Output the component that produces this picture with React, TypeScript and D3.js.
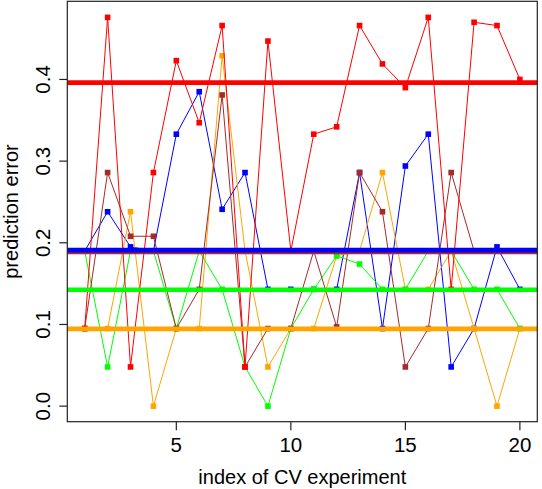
import * as d3 from 'd3';
import React, { useEffect, useRef } from 'react';

// CV experiment index and prediction errors per method
const runs = d3.range(1, 21);
const errRed = [0.095, 0.476, 0.048, 0.286, 0.423, 0.347, 0.466, 0.048, 0.447, 0.19, 0.333, 0.342, 0.466, 0.419, 0.39, 0.476, 0.143, 0.47, 0.466, 0.4];
const errBlue = [0.19, 0.238, 0.195, 0.19, 0.333, 0.385, 0.241, 0.286, 0.143, 0.143, 0.143, 0.143, 0.286, 0.095, 0.294, 0.333, 0.048, 0.095, 0.195, 0.143];
const errGreen = [0.19, 0.048, 0.19, 0.19, 0.095, 0.19, 0.143, 0.048, 0.0, 0.095, 0.143, 0.184, 0.174, 0.143, 0.143, 0.19, 0.19, 0.143, 0.143, 0.095];
const errOrange = [0.095, 0.095, 0.238, 0.0, 0.095, 0.095, 0.429, 0.19, 0.048, 0.095, 0.095, 0.184, 0.19, 0.286, 0.143, 0.143, 0.19, 0.095, 0.0, 0.095];
const errBrown = [0.095, 0.286, 0.208, 0.208, 0.095, 0.143, 0.381, 0.048, 0.095, 0.095, 0.19, 0.097, 0.286, 0.238, 0.048, 0.095, 0.286, 0.19, 0.19, 0.19];

// overall error estimates (thick horizontal lines)
const levelBrown = 0.189;
const levelBlue = 0.191;
const levelRed = 0.396;
const levelGreen = 0.1425;
const levelOrange = 0.0945;

const xTicks = [5, 10, 15, 20];
const yTicks = [0, 0.1, 0.2, 0.3, 0.4];

const W = 542;
const H = 489;
const plot = { left: 67.3, right: 537.3, top: 1.3, bottom: 421.7 };

export default function App() {
  const ref = useRef<SVGSVGElement>(null);

  useEffect(() => {
    const svg = d3.select(ref.current);
    svg.selectAll('*').remove();

    const x = d3.scaleLinear().domain([0.24, 20.76]).range([plot.left, plot.right]);
    const y = d3.scaleLinear().domain([-0.01906, 0.4957]).range([plot.bottom, plot.top]);

    const font = '"Liberation Sans", Arial, sans-serif';

    // series, in drawing order
    const series = [
      { color: '#0000FF', values: errBlue },
      { color: '#FFA500', values: errOrange },
      { color: '#00FF00', values: errGreen },
      { color: '#A52A2A', values: errBrown },
      { color: '#FF0000', values: errRed },
    ];

    const line = d3
      .line<number>()
      .x((d, i) => x(runs[i]))
      .y((d) => y(d));

    const sq = 5.6;
    series.forEach((s) => {
      svg
        .append('path')
        .datum(s.values)
        .attr('fill', 'none')
        .attr('stroke', s.color)
        .attr('stroke-width', 1)
        .attr('d', line);
      svg
        .append('g')
        .selectAll('rect')
        .data(s.values)
        .enter()
        .append('rect')
        .attr('x', (d, i) => x(runs[i]) - sq / 2)
        .attr('y', (d) => y(d) - sq / 2)
        .attr('width', sq)
        .attr('height', sq)
        .attr('fill', s.color);
    });

    // thick reference lines
    const levels = [
      { color: '#A52A2A', v: levelBrown },
      { color: '#0000FF', v: levelBlue },
      { color: '#FF0000', v: levelRed },
      { color: '#00FF00', v: levelGreen },
      { color: '#FFA500', v: levelOrange },
    ];
    levels.forEach((l) => {
      svg
        .append('line')
        .attr('x1', plot.left)
        .attr('x2', plot.right)
        .attr('y1', y(l.v))
        .attr('y2', y(l.v))
        .attr('stroke', l.color)
        .attr('stroke-width', 4.7);
    });

    // box
    svg
      .append('rect')
      .attr('x', plot.left)
      .attr('y', plot.top)
      .attr('width', plot.right - plot.left)
      .attr('height', plot.bottom - plot.top)
      .attr('fill', 'none')
      .attr('stroke', '#222')
      .attr('stroke-width', 1.2);

    // x axis
    const gx = svg.append('g');
    xTicks.forEach((t) => {
      gx.append('line')
        .attr('x1', x(t))
        .attr('x2', x(t))
        .attr('y1', plot.bottom)
        .attr('y2', plot.bottom + 8.5)
        .attr('stroke', '#222')
        .attr('stroke-width', 1.2);
      gx.append('text')
        .attr('x', x(t))
        .attr('y', 452.3)
        .attr('text-anchor', 'middle')
        .attr('font-family', font)
        .attr('font-size', 20.5)
        .text(t);
    });

    // y axis
    const gy = svg.append('g');
    yTicks.forEach((t) => {
      gy.append('line')
        .attr('x1', plot.left - 8)
        .attr('x2', plot.left)
        .attr('y1', y(t))
        .attr('y2', y(t))
        .attr('stroke', '#222')
        .attr('stroke-width', 1.2);
      gy.append('text')
        .attr('transform', `translate(50,${y(t)}) rotate(-90)`)
        .attr('text-anchor', 'middle')
        .attr('font-family', font)
        .attr('font-size', 20.5)
        .text(d3.format('.1f')(t));
    });

    svg
      .append('text')
      .attr('x', (plot.left + plot.right) / 2)
      .attr('y', 484)
      .attr('text-anchor', 'middle')
      .attr('font-family', font)
      .attr('font-size', 20)
      .text('index of CV experiment');

    svg
      .append('text')
      .attr('transform', `translate(17.5,${(plot.top + plot.bottom) / 2}) rotate(-90)`)
      .attr('text-anchor', 'middle')
      .attr('font-family', font)
      .attr('font-size', 20)
      .text('prediction error');
  }, []);

  return (
    <svg
      ref={ref}
      width={W}
      height={H}
      style={{ position: 'absolute', left: 0, top: 0, background: '#fff' }}
    />
  );
}
